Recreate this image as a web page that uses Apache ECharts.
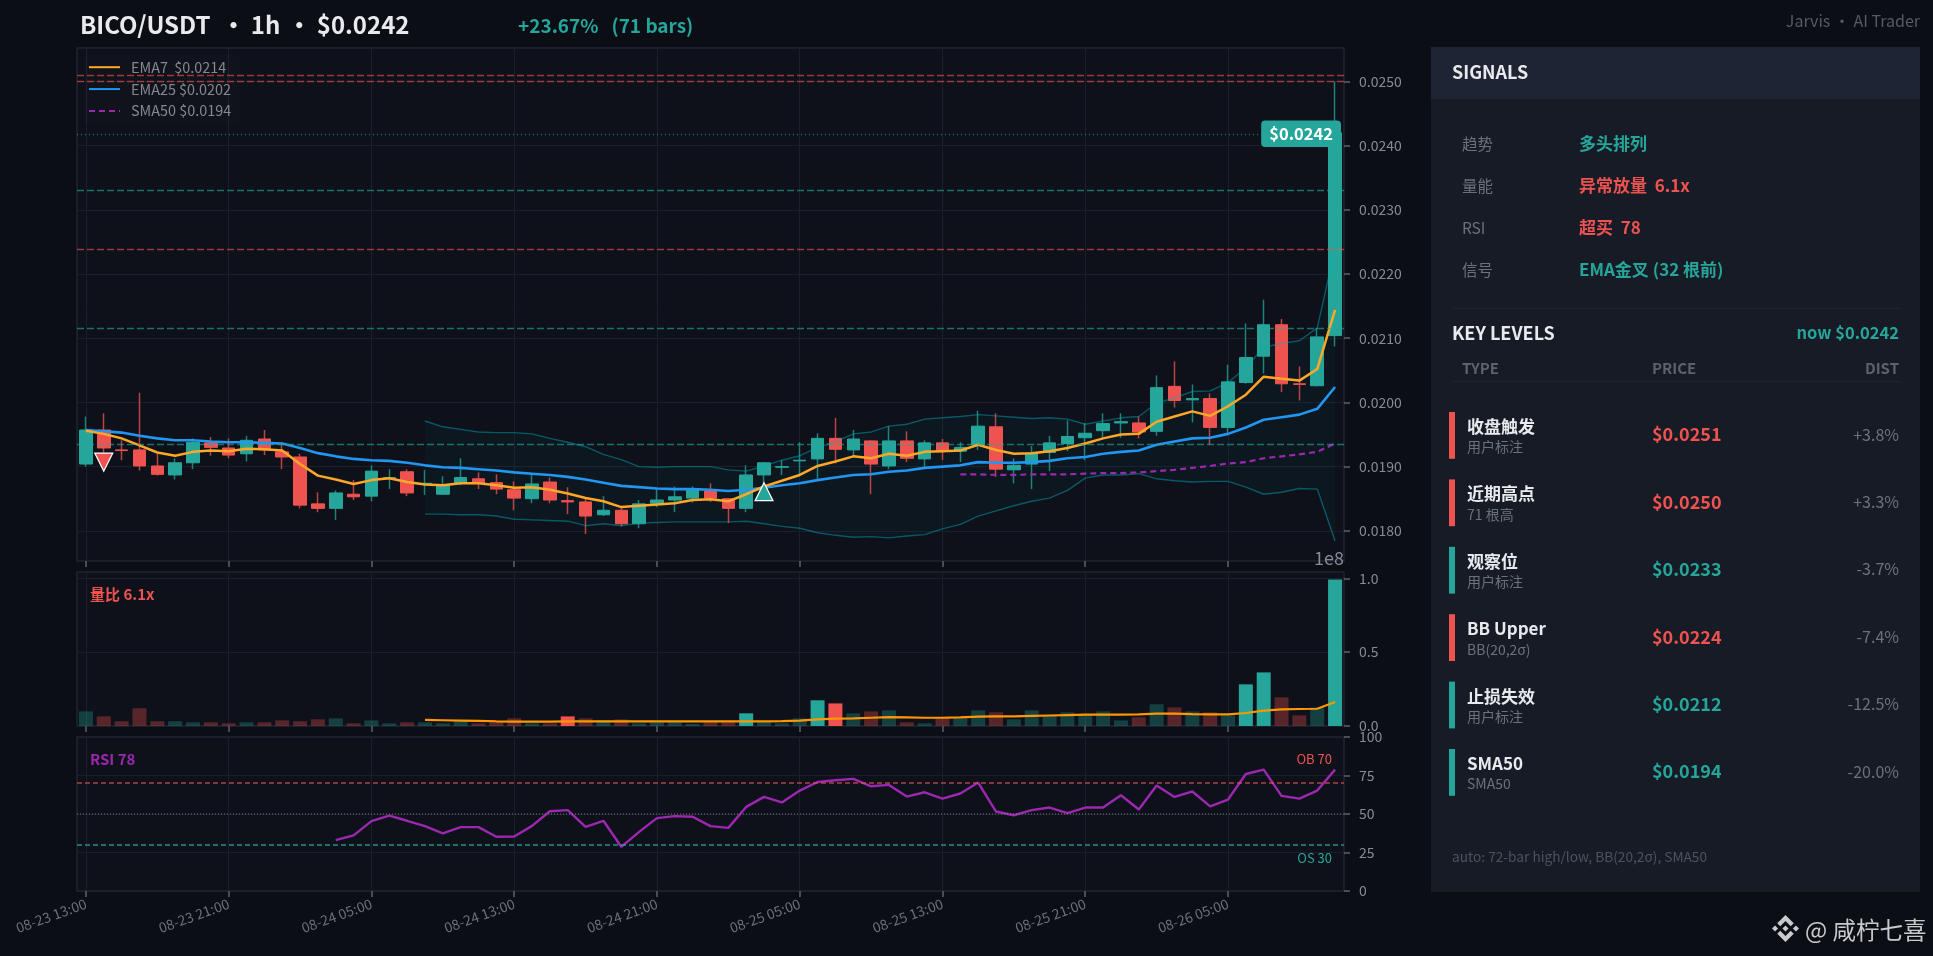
<!DOCTYPE html>
<html><head><meta charset="utf-8">
<style>html,body{margin:0;padding:0;background:#0b0e15;overflow:hidden}#c{width:1933px;height:956px}</style>
<script src="https://cdn.jsdelivr.net/npm/echarts@6/dist/echarts.min.js"></script>
</head><body><div id="c"></div>
<script>
const categories=['08-23 13:00','08-23 14:00','08-23 15:00','08-23 16:00','08-23 17:00','08-23 18:00','08-23 19:00','08-23 20:00','08-23 21:00','08-23 22:00','08-23 23:00','08-24 00:00','08-24 01:00','08-24 02:00','08-24 03:00','08-24 04:00','08-24 05:00','08-24 06:00','08-24 07:00','08-24 08:00','08-24 09:00','08-24 10:00','08-24 11:00','08-24 12:00','08-24 13:00','08-24 14:00','08-24 15:00','08-24 16:00','08-24 17:00','08-24 18:00','08-24 19:00','08-24 20:00','08-24 21:00','08-24 22:00','08-24 23:00','08-25 00:00','08-25 01:00','08-25 02:00','08-25 03:00','08-25 04:00','08-25 05:00','08-25 06:00','08-25 07:00','08-25 08:00','08-25 09:00','08-25 10:00','08-25 11:00','08-25 12:00','08-25 13:00','08-25 14:00','08-25 15:00','08-25 16:00','08-25 17:00','08-25 18:00','08-25 19:00','08-25 20:00','08-25 21:00','08-25 22:00','08-25 23:00','08-26 00:00','08-26 01:00','08-26 02:00','08-26 03:00','08-26 04:00','08-26 05:00','08-26 06:00','08-26 07:00','08-26 08:00','08-26 09:00','08-26 10:00','08-26 11:00'];
const opens=[.01904,.01957,.01926,.01926,.01901,.01887,.01906,.01937,.01929,.01920,.01943,.01923,.01915,.01842,.01835,.01857,.01854,.01882,.01892,.01873,.01857,.01874,.01881,.01875,.01864,.01850,.01876,.01847,.01845,.01825,.01832,.01811,.01843,.01848,.01851,.01862,.01850,.01835,.01887,.01899,.01909,.01912,.01944,.01926,.01940,.01901,.01940,.01912,.01937,.01924,.01934,.01962,.01895,.01904,.01922,.01936,.01945,.01956,.01968,.01968,.01955,.02025,.02004,.02006,.01961,.02031,.02072,.02121,.02029,.02026,.02104];
const highs=[.01978,.01983,.01941,.02015,.01920,.01913,.01944,.01946,.01944,.01948,.01957,.01938,.01920,.01860,.01863,.01879,.01902,.01896,.01896,.01895,.01885,.01913,.01891,.01888,.01877,.01887,.01883,.01868,.01851,.01854,.01837,.01848,.01865,.01869,.01869,.01874,.01851,.01902,.01907,.01910,.01938,.01952,.01976,.01957,.01941,.01963,.01955,.01941,.01943,.01938,.01987,.01983,.01913,.01932,.01948,.01972,.01968,.01983,.01983,.01978,.02042,.02064,.02028,.02014,.02059,.02123,.02160,.02130,.02056,.02116,.02500];
const lows=[.01900,.01922,.01910,.01894,.01886,.01880,.01896,.01917,.01913,.01908,.01918,.01896,.01835,.01829,.01817,.01848,.01846,.01865,.01854,.01856,.01856,.01871,.01865,.01857,.01832,.01843,.01843,.01826,.01795,.01823,.01807,.01804,.01837,.01829,.01844,.01845,.01812,.01829,.01875,.01887,.01887,.01881,.01905,.01917,.01857,.01896,.01907,.01899,.01910,.01907,.01926,.01884,.01874,.01865,.01893,.01924,.01910,.01945,.01945,.01944,.01948,.01992,.01969,.01934,.01952,.02029,.02045,.02016,.02003,.02025,.02087];
const closes=[.01957,.01929,.01925,.01901,.01888,.01906,.01938,.01930,.01918,.01941,.01926,.01915,.01840,.01835,.01859,.01853,.01893,.01883,.01859,.01874,.01872,.01883,.01874,.01865,.01851,.01873,.01848,.01845,.01823,.01832,.01811,.01842,.01848,.01853,.01864,.01851,.01835,.01887,.01906,.01900,.01910,.01944,.01927,.01943,.01904,.01940,.01913,.01937,.01924,.01930,.01963,.01896,.01902,.01921,.01937,.01947,.01952,.01967,.01970,.01954,.02023,.02003,.02006,.01961,.02032,.02070,.02121,.02029,.02028,.02102,.02420];
const ema7=[.01956,.01951,.01944,.01933,.01922,.01917,.01923,.01925,.01924,.01928,.01927,.01925,.01904,.01886,.01880,.01873,.01879,.01882,.01876,.01872,.01871,.01874,.01874,.01871,.01867,.01868,.01864,.01858,.01851,.01846,.01837,.01839,.01841,.01843,.01848,.01849,.01846,.01857,.01869,.01878,.01887,.01901,.01908,.01916,.01913,.01920,.01917,.01923,.01924,.01925,.01934,.01926,.01920,.01921,.01924,.01929,.01936,.01944,.01950,.01951,.01970,.01978,.01986,.01979,.01994,.02012,.02040,.02037,.02034,.02052,.02144];
const ema25=[.01957,.01955,.01953,.01948,.01944,.01941,.01941,.01939,.01938,.01938,.01937,.01936,.01929,.01921,.01916,.01912,.01910,.01909,.01906,.01902,.01899,.01898,.01896,.01894,.01891,.01889,.01887,.01884,.01880,.01875,.01870,.01868,.01866,.01865,.01865,.01864,.01862,.01864,.01867,.01871,.01874,.01879,.01883,.01887,.01888,.01892,.01894,.01898,.01900,.01902,.01907,.01906,.01906,.01907,.01909,.01913,.01915,.01920,.01923,.01925,.01934,.01939,.01944,.01945,.01951,.01961,.01973,.01977,.01981,.01990,.02024];
const sma50=[null,null,null,null,null,null,null,null,null,null,null,null,null,null,null,null,null,null,null,null,null,null,null,null,null,null,null,null,null,null,null,null,null,null,null,null,null,null,null,null,null,null,null,null,null,null,null,null,null,.01888,.01888,.01887,.01887,.01888,.01888,.01888,.01889,.01890,.01890,.01891,.01893,.01895,.01898,.01901,.01905,.01907,.01913,.01916,.01919,.01923,.01936];
const bbUpper=[null,null,null,null,null,null,null,null,null,null,null,null,null,null,null,null,null,null,null,.01971,.01962,.01958,.01954,.01953,.01953,.01951,.01944,.01938,.01931,.01919,.01911,.01900,.01899,.01900,.01900,.01900,.01895,.01893,.01901,.01910,.01917,.01930,.01939,.01951,.01954,.01963,.01966,.01974,.01976,.01978,.01981,.01979,.01977,.01975,.01976,.01974,.01966,.01971,.01976,.01978,.01999,.02007,.02017,.02018,.02031,.02054,.02086,.02092,.02096,.02116,.02240];
const bbLower=[null,null,null,null,null,null,null,null,null,null,null,null,null,null,null,null,null,null,null,.01826,.01826,.01825,.01825,.01823,.01818,.01817,.01816,.01815,.01808,.01811,.01808,.01812,.01813,.01814,.01814,.01814,.01814,.01815,.01811,.01807,.01804,.01797,.01793,.01790,.01791,.01789,.01792,.01794,.01803,.01810,.01823,.01831,.01839,.01846,.01851,.01863,.01882,.01887,.01887,.01889,.01881,.01878,.01876,.01877,.01877,.01868,.01857,.01860,.01866,.01865,.01784];
// volume in millions
const volumes=[9.9,6.5,3.2,12.0,3.2,3.2,2.5,2.5,1.8,2.5,2.5,3.8,3.2,4.5,5.2,1.8,3.8,1.8,2.5,2.5,1.8,3.2,1.8,3.2,5.2,1.8,1.8,6.5,5.2,3.8,4.5,1.8,2.5,2.5,1.4,2.5,2.5,8.6,2.5,1.8,5.2,17.4,15.3,8.6,9.9,10.6,2.5,1.8,5.2,5.2,10.6,9.3,4.5,10.6,7.2,9.3,7.9,9.9,3.8,5.9,14.7,12.6,9.9,9.3,7.2,28.2,36.3,19.4,7.2,12.6,99.3];
const volumeMA=[null,null,null,null,null,null,null,null,null,null,null,null,null,null,null,null,null,null,null,4.1,3.9,3.7,3.5,3.2,3.0,2.9,2.9,3.1,3.2,3.2,3.2,3.2,3.2,3.2,3.2,3.2,3.2,3.2,3.2,3.3,3.6,4.5,5.0,5.2,5.6,6.0,5.9,5.6,5.6,5.9,6.3,6.5,6.5,6.8,7.1,7.4,7.7,7.7,7.7,7.9,8.4,8.4,8.1,7.9,7.9,8.8,10.4,11.3,11.5,11.7,16.2];
const volumeSpikes=[27,37,41,42,65,66,70];
const rsi=[null,null,null,null,null,null,null,null,null,null,null,null,null,null,33.0,36.1,45.4,49.0,45.6,42.1,37.4,41.5,41.5,35.2,35.4,42.3,51.8,52.5,41.7,45.6,28.7,38.4,47.3,48.6,48.2,42.1,41.0,54.6,61.1,57.5,65.2,70.8,71.9,72.8,68.0,68.9,61.3,64.1,60.0,63.3,70.4,51.6,49.2,52.5,54.2,50.5,54.2,54.2,62.2,52.9,68.5,61.1,64.6,54.9,59.4,76.0,78.8,61.8,60.0,65.2,78.8];
const priceTicks=[.018,.019,.020,.021,.022,.023,.024,.025];
const volumeTicks=[0,50,100];
const rsiTicks=[0,25,50,75,100];
const levels=[
 {name:'收盘触发',sub:'用户标注',price:.0251,label:'$0.0251',dist:'+3.8%',side:'r'},
 {name:'近期高点',sub:'71 根高',price:.0250,label:'$0.0250',dist:'+3.3%',side:'r'},
 {name:'观察位',sub:'用户标注',price:.0233,label:'$0.0233',dist:'-3.7%',side:'g'},
 {name:'BB Upper',sub:'BB(20,2σ)',price:.02239,label:'$0.0224',dist:'-7.4%',side:'r'},
 {name:'止损失效',sub:'用户标注',price:.02116,label:'$0.0212',dist:'-12.5%',side:'g'},
 {name:'SMA50',sub:'SMA50',price:.01935,label:'$0.0194',dist:'-20.0%',side:'g'}];
const signalRows=[['趋势','多头排列','g'],['量能','异常放量  6.1x','r'],['RSI','超买  78','r'],['信号','EMA金叉 (32 根前)','g']];
const rsiLevels=[{value:70,color:'rgba(239,83,80,.72)',dash:[5,3]},{value:30,color:'rgba(38,166,154,.85)',dash:[5,3]},{value:50,color:'rgba(150,155,165,.5)',dash:[1,2]}];
const lastPrice=.0242, sellMarker=[1,.01907], buyMarker=[38,.01861];

const UP='#26a69a',DN='#ef5350',FONT='"Noto Sans CJK SC","Noto Sans",sans-serif';
const GRIDC='#1a1f2a',FRAME='#1e2433',TICK='#5d626d',LAB='#878b93';
const GL=77,GR=589;
const grids=[{top:48,height:513},{top:572,height:154},{top:737,height:154}].map(g=>({left:GL,right:GR,top:g.top,height:g.height,show:true,backgroundColor:'#0e1119',borderColor:FRAME,borderWidth:1.5}));
const xAxes=[0,1,2].map(i=>({type:'category',gridIndex:i,data:categories,boundaryGap:true,
 axisLine:{show:false},
 axisTick:{show:true,alignWithLabel:true,interval:7,length:6,lineStyle:{color:TICK,width:1.5}},
 splitLine:{show:true,interval:7,alignWithLabel:true,lineStyle:{color:GRIDC,width:1}},
 axisLabel:i===2?{show:true,interval:7,rotate:20,color:'#6c7079',fontSize:14,fontFamily:FONT,margin:12}:{show:false}}));
const yBase=(i,min,max,vals,fmt)=>({type:'value',gridIndex:i,position:'right',min,max,scale:true,
 axisLine:{show:false},
 axisTick:{show:true,length:6,customValues:vals,lineStyle:{color:TICK,width:1.5}},
 axisLabel:{show:true,customValues:vals,formatter:fmt,color:LAB,fontSize:14,fontFamily:FONT,margin:15},
 splitLine:{show:true,lineStyle:{color:GRIDC,width:1}}});
const yAxes=[yBase(0,.01753,.02552,priceTicks,v=>v.toFixed(4)),yBase(1,0,104.3,volumeTicks,v=>(v/100).toFixed(1)),yBase(2,0,100,rsiTicks,v=>String(v))];

const levelStyle=l=>({yAxis:l.price,lineStyle:{color:l.side==='r'?'rgba(239,83,80,.62)':'rgba(38,166,154,.62)',type:[7,3],width:1.4}});
const bbBase=bbLower, bbBand=bbUpper.map((v,i)=>v==null?null:+(v-bbLower[i]).toFixed(5));
const wick=categories.map((_,i)=>[opens[i],closes[i],lows[i],highs[i]]);
const body=categories.map((_,i)=>[opens[i],closes[i],Math.min(opens[i],closes[i]),Math.max(opens[i],closes[i])]);
const line=(name,data,color,width,extra)=>Object.assign({type:'line',name,data,xAxisIndex:0,yAxisIndex:0,showSymbol:false,symbol:'none',smooth:false,connectNulls:false,silent:true,itemStyle:{color},lineStyle:{color,width}},extra||{});
const series=[
 line('levels',closes,'transparent',0,{z:1,lineStyle:{width:0,opacity:0},markLine:{silent:true,symbol:'none',precision:6,label:{show:false},animation:false,
  data:levels.map(levelStyle).concat([{yAxis:lastPrice-.00003,lineStyle:{color:'rgba(38,166,154,.6)',type:[1,3],width:1.4}}])}}),
 line('bbBase',bbBase,'transparent',0,{stack:'bb',z:1}),
 line('bbBand',bbBand,'transparent',0,{stack:'bb',areaStyle:{color:'rgba(0,172,193,.055)'},z:1}),
 {type:'candlestick',name:'wicks',xAxisIndex:0,yAxisIndex:0,data:wick,barWidth:1,silent:true,z:2,itemStyle:{color:'#1d8279',color0:'#b94444',borderColor:'#1d8279',borderColor0:'#b94444',borderWidth:1.5}},
 {type:'candlestick',name:'bodies',xAxisIndex:0,yAxisIndex:0,data:body,barWidth:13,silent:true,z:2,itemStyle:{color:UP,color0:DN,borderColor:UP,borderColor0:DN,borderWidth:1}},
 line('BB upper',bbUpper,'rgba(0,172,193,.45)',1.4,{z:3}),
 line('BB lower',bbLower,'rgba(0,172,193,.45)',1.4,{z:3}),
 line('SMA50 $0.0194',sma50,'#9c27b0',2,{z:3,lineStyle:{color:'#9c27b0',width:2.2,type:[6,4]}}),
 line('EMA25 $0.0202',ema25,'#2196f3',2.6,{z:3}),
 line('EMA7  $0.0214',ema7,'#ffa726',2.5,{z:4}),
 {type:'scatter',name:'sell',xAxisIndex:0,yAxisIndex:0,data:[sellMarker],symbol:'triangle',symbolRotate:180,symbolSize:[18,18],silent:true,z:5,itemStyle:{color:DN,opacity:1,borderColor:'#ffffff',borderWidth:1.2}},
 {type:'scatter',name:'buy',xAxisIndex:0,yAxisIndex:0,data:[buyMarker],symbol:'triangle',symbolSize:[18,18],silent:true,z:5,itemStyle:{color:UP,opacity:1,borderColor:'#ffffff',borderWidth:1.2},
  markPoint:{silent:true,animation:false,symbol:'circle',symbolSize:0,data:[{coord:[categories[70],lastPrice],label:{show:true,formatter:'$0.0242',position:'inside',offset:[-34,1],color:'#fff',fontSize:16.5,fontWeight:'bold',fontFamily:FONT,backgroundColor:UP,borderRadius:4,padding:[5,8]}}]}},
 {type:'bar',name:'volume',xAxisIndex:1,yAxisIndex:1,barWidth:14,silent:true,data:volumes.map((v,i)=>{const up=closes[i]>=opens[i],hot=volumeSpikes.includes(i);return {value:v,itemStyle:{color:up?(hot?UP:'rgba(38,166,154,.32)'):(hot?DN:'rgba(239,83,80,.33)')}};})},
 {type:'line',name:'volume MA',xAxisIndex:1,yAxisIndex:1,data:volumeMA,symbol:'none',silent:true,lineStyle:{color:'#ff9800',width:2.2},z:3},
 {type:'line',name:'RSI levels',xAxisIndex:2,yAxisIndex:2,data:rsi,symbol:'none',silent:true,itemStyle:{color:'transparent'},lineStyle:{width:0,opacity:0},z:2,
  markLine:{silent:true,symbol:'none',precision:2,label:{show:false},animation:false,
   data:rsiLevels.map(l=>({yAxis:l.value,lineStyle:{color:l.color,type:l.dash,width:1.5}}))}},
 {type:'line',name:'RSI',xAxisIndex:2,yAxisIndex:2,data:rsi,symbol:'none',silent:true,itemStyle:{color:'#9c27b0'},lineStyle:{color:'#9c27b0',width:2.4},z:3}
];
const txt=(x,y,text,size,fill,weight,align)=>({type:'text',silent:true,z:20,style:{x,y,text,fill,fontSize:size,fontWeight:weight||'normal',fontFamily:FONT,textAlign:align||'left',textVerticalAlign:'middle'}});
const rect=(x,y,w,h,fill,z)=>({type:'rect',silent:true,z:z||10,shape:{x,y,width:w,height:h},style:{fill}});
const logo=(pts)=>({type:'polygon',silent:true,z:20,x:1772,y:915,scaleX:27/24,scaleY:27/24,shape:{points:pts},style:{fill:'#c9cacc'}});
const col=s=>s==='r'?DN:UP;
const PANEL='#171b26',HEAD='#1e2433',MUTED='#6c717b',TITLE='#e8eaee';
const G=[
 txt(80,25,'BICO/USDT  · 1h \u200a· $0.0242',24,TITLE,'bold'),
 txt(518,26,'+23.67%   (71 bars)',19,UP,'bold'),
 txt(1920,21,'Jarvis · AI Trader',16,'#555a64','normal','right'),
 txt(1344,558,'1e8',18,LAB,'normal','right'),
 txt(90,594,'量比 6.1x',15,DN,'bold'),
 txt(90,759,'RSI 78',15,'#9c27b0','bold'),
 txt(1332,759,'OB 70',13,DN,'normal','right'),
 txt(1332,858,'OS 30',13,UP,'normal','right'),
 rect(1431,47,489,845,PANEL),
 rect(1431,47,489,52,HEAD,11),
 txt(1452,72,'SIGNALS',18,TITLE,'bold'),
 rect(1452,308,449,1,'#1e2330',11),
 txt(1452,333,'KEY LEVELS',18,TITLE,'bold'),
 txt(1899,333,'now $0.0242',16.5,UP,'bold','right'),
 txt(1462,368,'TYPE',15,'#5c616c','bold'),
 txt(1652,368,'PRICE',15,'#5c616c','bold'),
 txt(1899,368,'DIST',15,'#5c616c','bold','right'),
 rect(1452,381,449,1,'#1e2330',11),
 txt(1452,857,'auto: 72-bar high/low, BB(20,2σ), SMA50',13.7,'#4d525e'),
 txt(1805,930,'@ 咸柠七喜',23.5,'#c9cacc'),
 logo([[12,9.27],[14.7,12],[12,14.7],[9.27,12]]),
 logo([[2.72,9.28],[5.41,12],[2.72,14.69],[0,12]]),
 logo([[21.26,9.28],[24,12],[21.28,14.72],[18.57,12]]),
 logo([[11.99,0],[19.34,7.34],[16.62,10.06],[11.99,5.42],[7.35,10.08],[4.64,7.36]]),
 logo([[16.62,13.92],[19.34,16.64],[11.99,24],[4.64,16.64],[7.35,13.92],[11.99,18.58]])
];
signalRows.forEach((r,i)=>{const y=144+i*42;G.push(txt(1462,y,r[0],15.5,MUTED),txt(1579,y,r[1],17,col(r[2]),'bold'));});
levels.forEach((l,i)=>{const y=412+i*67.4;G.push(rect(1449,y,6,46.8,col(l.side),11),txt(1467,y+14.5,l.name,17,TITLE,'bold'),txt(1467,y+35,l.sub,14,MUTED),txt(1652,y+22.5,l.label,18,col(l.side),'bold'),txt(1899,y+22.5,l.dist,16,MUTED,'normal','right'));});

const chart=echarts.init(document.getElementById('c'),null,{width:1933,height:956});
chart.setOption({animation:false,backgroundColor:'#0b0e15',textStyle:{fontFamily:FONT},
 grid:grids,xAxis:xAxes,yAxis:yAxes,series,
 legend:{show:true,orient:'vertical',left:85,top:55,padding:[5,8,5,3],itemWidth:31,itemHeight:14,itemGap:7.5,selectedMode:false,
  backgroundColor:'rgba(255,255,255,.012)',borderRadius:4,borderColor:'rgba(255,255,255,.02)',borderWidth:1,
  itemStyle:{opacity:0},
  textStyle:{color:'#85888f',fontSize:14.4,fontFamily:FONT,padding:[0,0,0,6]},
  data:['EMA7  $0.0214','EMA25 $0.0202','SMA50 $0.0194']},
 graphic:G});
</script></body></html>
